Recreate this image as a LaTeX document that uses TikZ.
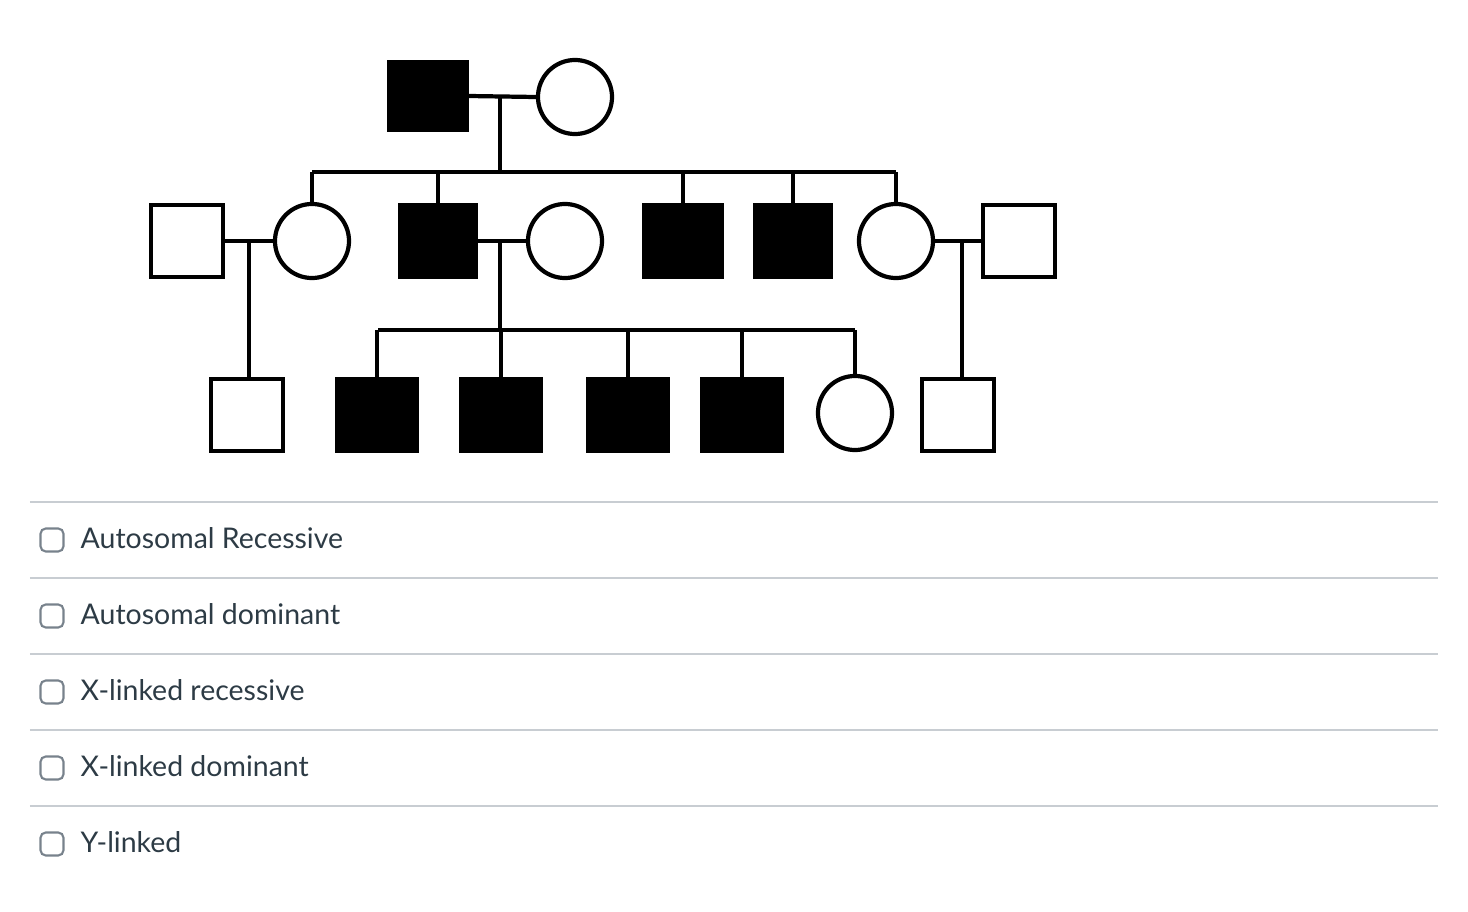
\documentclass[tikz,border=0pt]{standalone}
\usepackage{fontspec}
\setmainfont{Lato}
\begin{document}
\begin{tikzpicture}[x=0.01cm,y=-0.01cm,
  sq/.style={draw=black,line width=1.2pt,minimum width=72\pgflinewidth,inner sep=0pt},
  msq/.style={draw=black,line width=1.2pt,minimum size=0.72cm,inner sep=0pt},
  aff/.style={msq,fill=black},
  fem/.style={circle,draw=black,line width=1.2pt,minimum size=0.74cm,inner sep=0pt},
  ln/.style={line width=1.2pt},
  sep/.style={draw={rgb,255:red,200;green,205;blue,210},line width=0.5pt},
  box/.style={draw={rgb,255:red,120;green,130;blue,140},line width=0.6pt,rounded corners=1.5pt,minimum size=0.23cm,inner sep=0pt},
  opt/.style={anchor=west,text={rgb,255:red,45;green,59;blue,69},font=\fontsize{8.1pt}{10pt}\selectfont,inner sep=0pt}]
\useasboundingbox (0,0) rectangle (1468,912);
% generation 1
\node[aff,minimum width=0.77cm,minimum height=0.68cm] (g1m) at (428,96) {};
\node[fem] (g1f) at (575,97) {};
\draw[ln] (g1m.east) -- (g1f.west);
\coordinate (g1c) at (500,97);
\coordinate (s1) at (500,172);
\draw[ln] (g1c) -- (s1);
% generation 2
\node[msq] (a1) at (187,241) {};
\node[fem] (a2) at (312,241) {};
\node[aff,minimum width=0.76cm] (b1) at (438,241) {};
\node[fem] (b2) at (565,241) {};
\node[aff,minimum width=0.77cm] (c1) at (683,241) {};
\node[aff,minimum width=0.76cm] (d1) at (793,241) {};
\node[fem] (e1) at (896,241) {};
\node[msq] (e2) at (1019,241) {};
\draw[ln] (312,172) -- (896,172);
\foreach \n in {a2,b1,c1,d1,e1} \draw[ln] (\n.north) -- (\n.north |- s1);
\draw[ln] (a1.east) -- (a2.west);
\draw[ln] (b1.east) -- (b2.west);
\draw[ln] (e1.east) -- (e2.west);
% generation 3
\node[msq] (k1) at (247,415) {};
\node[aff,minimum width=0.8cm] (k2) at (377,415) {};
\node[aff,minimum width=0.8cm] (k3) at (501,415) {};
\node[aff,minimum width=0.8cm] (k4) at (628,415) {};
\node[aff,minimum width=0.79cm] (k5) at (742,415) {};
\node[fem] (k6) at (855,413) {};
\node[msq] (k7) at (958,415) {};
\draw[ln] (249,241) -- (249,380);
\draw[ln] (962,241) -- (962,380);
\coordinate (s2) at (500,330);
\draw[ln] (500,241) -- (s2);
\draw[ln] (378,330) -- (855,330);
\foreach \n in {k2,k3,k4,k5,k6} \draw[ln] (\n.north) -- (\n.north |- s2);
% options
\foreach \y in {502,578,654,730,806} \draw[sep] (30,\y) -- (1438,\y);
\node[box] (o1) at (52,540) {};
\node[box] (o2) at (52,616) {};
\node[box] (o3) at (52,692) {};
\node[box] (o4) at (52,768) {};
\node[box] (o5) at (52,844) {};
\node[opt] (t1) at (80,538) {Autosomal Recessive};
\node[opt] (t2) at (80,614) {Autosomal dominant};
\node[opt] (t3) at (80,690) {X-linked recessive};
\node[opt] (t4) at (80,766) {X-linked dominant};
\node[opt] (t5) at (80,842) {Y-linked};
\end{tikzpicture}
\end{document}
